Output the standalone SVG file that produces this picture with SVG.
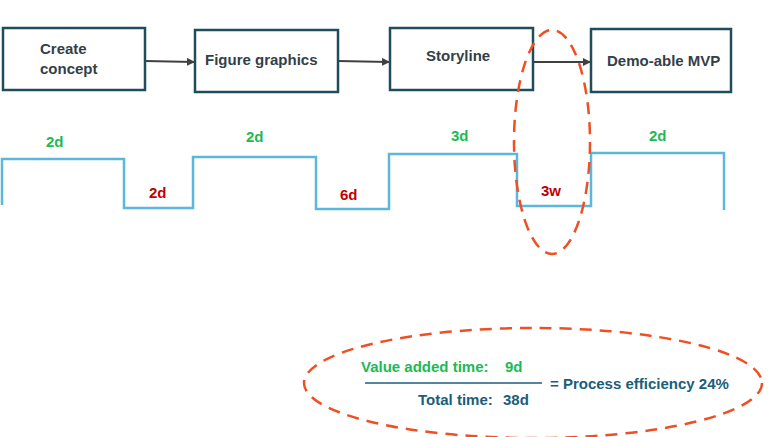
<svg xmlns="http://www.w3.org/2000/svg" width="768" height="437" viewBox="0 0 768 437">
<style>
.box{fill:#fff;stroke:#1f4e5a;stroke-width:2.5}
.t{font-family:"Liberation Sans",Arial,sans-serif;font-weight:bold;font-size:15px;fill:#333f48}
.g{font-family:"Liberation Sans",Arial,sans-serif;font-weight:bold;font-size:15px;fill:#1db954}
.r{font-family:"Liberation Sans",Arial,sans-serif;font-weight:bold;font-size:15px;fill:#c00000}
.b{font-family:"Liberation Sans",Arial,sans-serif;font-weight:bold;font-size:15px;fill:#1a5e7a}
.c{stroke:#404040;stroke-width:2;fill:none;marker-end:url(#a)}
.dash{fill:none;stroke:#f04e23;stroke-width:2.5;stroke-dasharray:12 8}
</style>
<defs><marker id="a" markerWidth="8" markerHeight="8" refX="7" refY="4" orient="auto" markerUnits="userSpaceOnUse"><path d="M0,0L8,4L0,8z" fill="#404040"/></marker></defs>
<g id="connectors">
<line class="c" x1="145" y1="61" x2="194" y2="62"/>
<line class="c" x1="338" y1="61" x2="389" y2="62"/>
<line class="c" x1="533" y1="62" x2="590" y2="62"/>
</g>
<g id="n1"><rect class="box" x="3" y="28" width="142" height="62"/><text class="t" x="40" y="54">Create</text><text class="t" x="40" y="74">concept</text></g>
<g id="n2"><rect class="box" x="195" y="30" width="143" height="62"/><text class="t" x="205" y="65">Figure graphics</text></g>
<g id="n3"><rect class="box" x="390" y="28" width="143" height="62"/><text class="t" x="426" y="61">Storyline</text></g>
<g id="n4"><rect class="box" x="591" y="29" width="140" height="63"/><text class="t" x="607" y="66">Demo-able MVP</text></g>
<path d="M2,205V159H124V208H193V157H316V209H389V154H517V206H591V153H724V210" fill="none" stroke="#5bb8dc" stroke-width="2.5"/>
<text class="g" x="46" y="147">2d</text>
<text class="g" x="246" y="142">2d</text>
<text class="g" x="451" y="141">3d</text>
<text class="g" x="649" y="141">2d</text>
<text class="r" x="149" y="198">2d</text>
<text class="r" x="340" y="200">6d</text>
<text class="r" x="541" y="196">3w</text>
<ellipse class="dash" cx="552" cy="142" rx="38" ry="112"/>
<ellipse class="dash" cx="533" cy="383" rx="229" ry="55"/>
<text class="g" x="361" y="372">Value added time:</text>
<text class="g" x="505" y="372">9d</text>
<line x1="365" y1="383" x2="542" y2="383" stroke="#1a5e7a" stroke-width="1.5"/>
<text class="b" x="418" y="405">Total time:</text>
<text class="b" x="503" y="405">38d</text>
<text class="b" x="550" y="389">= Process efficiency 24%</text>
</svg>
